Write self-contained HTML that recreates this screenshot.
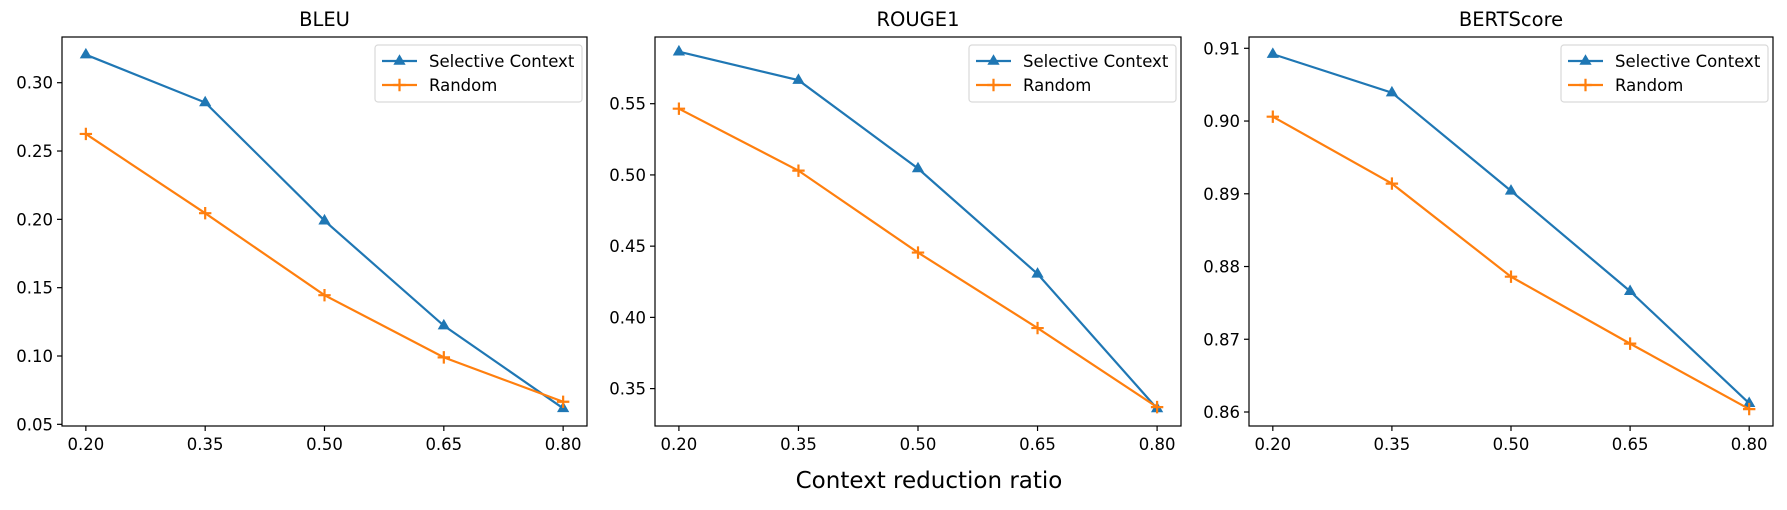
<!DOCTYPE html>
<html><head><meta charset="utf-8"><style>
html,body{margin:0;padding:0;background:#fff}
svg text{font-family:"DejaVu Sans","Liberation Sans",sans-serif;fill:#000}
</style></head><body>
<svg id="s" width="1787" height="505" xmlns="http://www.w3.org/2000/svg"></svg>
<script>
(function(){
const s=document.getElementById('s');
let h='';
const TOP=37,BOT=426;
const panels=[
 {L:62,R:587,title:'BLEU',ticks:[0.05,0.10,0.15,0.20,0.25,0.30],y0:0.10,py0:356,scale:(356-82.7)/0.20,
  sc:[.3205,.2855,.1990,.1222,.0617],rd:[.2625,.2045,.1445,.0990,.0665]},
 {L:655,R:1181,title:'ROUGE1',ticks:[0.35,0.40,0.45,0.50,0.55],y0:0.35,py0:388.6,scale:(388.6-103.7)/0.20,
  sc:[.5865,.5665,.5045,.4305,.3360],rd:[.5465,.5030,.4455,.3925,.3370]},
 {L:1249,R:1773,title:'BERTScore',ticks:[0.86,0.87,0.88,0.89,0.90,0.91],y0:0.86,py0:412,scale:(412-48.3)/0.05,
  sc:[.9092,.9039,.8904,.8766,.8612],rd:[.9006,.8914,.8786,.8694,.8604]}
];
const xs=['0.20','0.35','0.50','0.65','0.80'];
function tri(x,y){const r=6.8;return '<polygon points="'+x+','+(y-r)+' '+(x-r*0.9)+','+(y+r*0.55)+' '+(x+r*0.9)+','+(y+r*0.55)+'" fill="#1f77b4"/>';}
function plus(x,y){const r=6.2;return '<path d="M'+(x-r)+','+y+'H'+(x+r)+'M'+x+','+(y-r)+'V'+(y+r)+'" stroke="#ff7f0e" stroke-width="2.2"/>';}
panels.forEach(function(p){
 const W=p.R-p.L, step=(W/1.1)/4;
 const X=function(i){return p.L+W*(0.05/1.1)+i*step;};
 const Y=function(v){return p.py0-(v-p.y0)*p.scale;};
 h+='<text x="'+((p.L+p.R)/2)+'" y="26" font-size="19.5" text-anchor="middle">'+p.title+'</text>';
 p.ticks.forEach(function(t){const y=Y(t);h+='<line x1="'+(p.L-5)+'" x2="'+p.L+'" y1="'+y+'" y2="'+y+'" stroke="#000" stroke-width="1.2"/><text x="'+(p.L-9)+'" y="'+(y+6)+'" font-size="16.5" text-anchor="end">'+t.toFixed(2)+'</text>';});
 xs.forEach(function(t,i){const x=X(i);h+='<line x1="'+x+'" x2="'+x+'" y1="'+BOT+'" y2="'+(BOT+5)+'" stroke="#000" stroke-width="1.2"/><text x="'+x+'" y="'+(BOT+24)+'" font-size="16.5" text-anchor="middle">'+t+'</text>';});
 const ps=function(a){return a.map(function(v,i){return X(i)+','+Y(v);}).join(' ');};
 h+='<polyline points="'+ps(p.sc)+'" fill="none" stroke="#1f77b4" stroke-width="2.2"/>';
 p.sc.forEach(function(v,i){h+=tri(X(i),Y(v));});
 h+='<polyline points="'+ps(p.rd)+'" fill="none" stroke="#ff7f0e" stroke-width="2.2"/>';
 p.rd.forEach(function(v,i){h+=plus(X(i),Y(v));});
 h+='<rect x="'+p.L+'" y="'+TOP+'" width="'+W+'" height="'+(BOT-TOP)+'" fill="none" stroke="#000" stroke-width="1.2"/>';
 const lr=p.R-5, ll=lr-207;
 h+='<rect x="'+ll+'" y="45" width="207" height="57" rx="3" fill="#fff" fill-opacity="0.8" stroke="#d9d9d9" stroke-width="1.2"/>';
 h+='<line x1="'+(ll+7)+'" x2="'+(ll+42)+'" y1="61" y2="61" stroke="#1f77b4" stroke-width="2.2"/>'+tri(ll+24.5,61);
 h+='<text x="'+(ll+54)+'" y="67" font-size="16.5">Selective Context</text>';
 h+='<line x1="'+(ll+7)+'" x2="'+(ll+42)+'" y1="85" y2="85" stroke="#ff7f0e" stroke-width="2.2"/>'+plus(ll+24.5,85);
 h+='<text x="'+(ll+54)+'" y="91" font-size="16.5">Random</text>';
});
h+='<text x="929" y="488" font-size="23" text-anchor="middle">Context reduction ratio</text>';
s.innerHTML=h;
})();
</script>
</body></html>
